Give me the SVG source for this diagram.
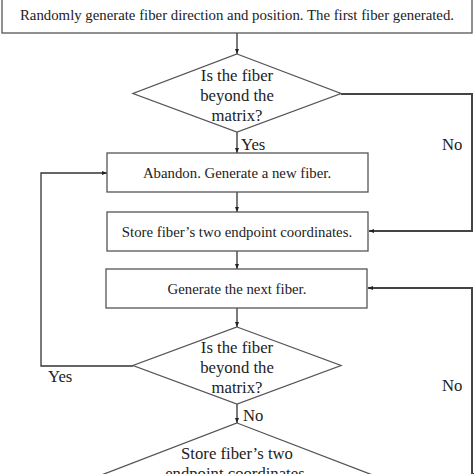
<svg xmlns="http://www.w3.org/2000/svg" width="474" height="474" viewBox="0 0 474 474" font-family="Liberation Serif, serif">
<style>
.box{fill:#fff;stroke:#555;stroke-width:1.3}
.ln{fill:none;stroke:#333;stroke-width:1.3}
.lnr{fill:none;stroke:#444;stroke-width:2}
text{font-family:'Liberation Serif','Times New Roman',serif;fill:#222}
.t13{font-size:14.8px;text-anchor:middle}
.t16{font-size:16.7px;text-anchor:middle}
.lbl{font-size:16.7px}
</style>
<defs>
<marker id="ah" viewBox="0 0 10 10" refX="10" refY="5" markerWidth="5" markerHeight="5" orient="auto" markerUnits="userSpaceOnUse">
<path d="M0,1 L10,5 L0,9 Z" fill="#222"/>
</marker>
</defs>
<rect width="474" height="474" fill="#fff"/>
<g id="connectors">
<path class="ln" d="M237,33 V54" marker-end="url(#ah)"/>
<path class="ln" d="M237,132 V153" marker-end="url(#ah)"/>
<path class="ln" d="M237,192 V212" marker-end="url(#ah)"/>
<path class="ln" d="M237,251 V269" marker-end="url(#ah)"/>
<path class="ln" d="M237,308 V327" marker-end="url(#ah)"/>
<path class="ln" d="M237,404 V423" marker-end="url(#ah)"/>
<path class="lnr" d="M341,94 H472 V231 H369" marker-end="url(#ah)"/>
<path class="lnr" d="M474,474 H472 V288 H368" marker-end="url(#ah)"/>
<path class="ln" d="M133,366 H41 V173 H107" marker-end="url(#ah)"/>
<text class="lbl" x="241" y="150">Yes</text>
<text class="lbl" x="442" y="150">No</text>
<text class="lbl" x="48" y="382">Yes</text>
<text class="lbl" x="442" y="391">No</text>
<text class="lbl" x="243" y="421">No</text>
</g>
<g id="start">
<rect class="box" x="2" y="-3" width="470" height="36"/>
<text class="t13" x="237" y="20">Randomly generate fiber direction and position. The first fiber generated.</text>
</g>
<g id="decision1">
<polygon class="box" points="237,54 341,93.5 237,132 133,93.5"/>
<text class="t16" x="237" y="81">Is the fiber</text>
<text class="t16" x="237" y="101">beyond the</text>
<text class="t16" x="237" y="121">matrix?</text>
</g>
<g id="abandon">
<rect class="box" x="107" y="153" width="261" height="39"/>
<text class="t13" x="237" y="178">Abandon. Generate a new fiber.</text>
</g>
<g id="store1">
<rect class="box" x="107" y="212" width="261" height="39"/>
<text class="t13" x="237" y="237">Store fiber’s two endpoint coordinates.</text>
</g>
<g id="next">
<rect class="box" x="106" y="269" width="261" height="39"/>
<text class="t13" x="237" y="294">Generate the next fiber.</text>
</g>
<g id="decision2">
<polygon class="box" points="237,327 341,365.5 237,404 133,365.5"/>
<text class="t16" x="237" y="353">Is the fiber</text>
<text class="t16" x="237" y="373">beyond the</text>
<text class="t16" x="237" y="393">matrix?</text>
</g>
<g id="decision3">
<polygon class="box" points="237,423 370,474 237,525 104,474"/>
<text class="t16" x="237" y="459">Store fiber’s two</text>
<text class="t16" x="237" y="479">endpoint coordinates.</text>
</g>
</svg>
